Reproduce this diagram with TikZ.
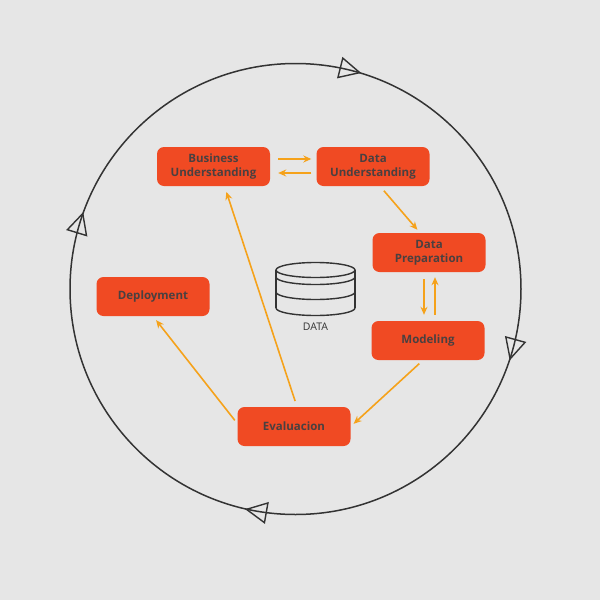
\documentclass[tikz,border=0pt]{standalone}
\usepackage{fontspec}
\setmainfont{Open Sans}
\usetikzlibrary{arrows.meta}
\definecolor{bg}{HTML}{E6E6E6}
\definecolor{box}{HTML}{F04A23}
\definecolor{txt}{HTML}{4A4040}
\definecolor{arr}{HTML}{F5A21B}
\definecolor{ln}{HTML}{333333}
\begin{document}
\begin{tikzpicture}[x=1pt,y=-1pt,
  stage/.style={fill=box,rounded corners=7pt,minimum width=113pt,minimum height=39pt,align=center,text=txt,font=\bfseries\fontsize{11.5}{14}\selectfont,inner sep=1pt},
  flow/.style={draw=arr,line width=1.6pt,-{Stealth[length=8pt,width=7pt]}},
  tri/.style={draw=ln,line width=1.4pt,fill=none,line join=miter}]
\fill[bg] (0,0) rectangle (600,600);
\useasboundingbox (0,0) rectangle (600,600);
\draw[ln,line width=1.5pt] (295.5,289) circle (225.5);
\foreach \a in {76,-15.5,-100,163}{
  \begin{scope}[shift={(295.5,289)},rotate=\a]
    \draw[tri] (215.5,-10) -- (235.5,-10) -- (225.5,10) -- cycle;
  \end{scope}
}
\node[stage] (bu) at (213.5,166.5) {Business\\Understanding};
\node[stage] (du) at (373,166.5) {Data\\Understanding};
\node[stage] (dp) at (429,252.5) {Data\\Preparation};
\node[stage] (mo) at (428,340.5) {Modeling};
\node[stage] (de) at (153,296.5) {Deployment};
\node[stage] (ev) at (294,426.5) {Evaluacion};
\begin{scope}[ln,line width=1.4pt]
\draw (315.5,270) ellipse (39.5 and 7.5);
\draw (276,270) -- (276,308) (355,270) -- (355,308);
\foreach \y in {277,292,308}{\draw (276,\y) arc[start angle=180,end angle=0,x radius=39.5,y radius=7.5];}
\end{scope}
\node[text=ln,font=\fontsize{10.5}{12}\selectfont] (db) at (315.5,327) {DATA};
\draw[flow,shorten <=8pt,shorten >=5pt] ([yshift=7.5pt]bu.east) -- ([yshift=7.5pt]du.west);
\draw[flow,shorten <=5pt,shorten >=8pt] ([yshift=-6.5pt]du.west) -- ([yshift=-6.5pt]bu.east);
\draw[flow,shorten <=6pt,shorten >=4pt] ([xshift=7pt]du.south) -- ([xshift=-9pt]dp.north);
\draw[flow,shorten <=7pt,shorten >=6pt] ([xshift=-5pt]dp.south) -- ([xshift=-4pt]mo.north);
\draw[flow,shorten <=6pt,shorten >=5pt] ([xshift=7pt]mo.north) -- ([xshift=6pt]dp.south);
\draw[flow,shorten <=5pt,shorten >=4pt] ([xshift=-5pt]mo.south) -- (ev.east);
\draw[flow,shorten <=6pt,shorten >=6pt] ([xshift=3pt]ev.north) -- ([xshift=11pt]bu.south);
\draw[flow,shorten <=4pt,shorten >=5pt] ([yshift=3pt]ev.west) -- (de.south);
\end{tikzpicture}
\end{document}
